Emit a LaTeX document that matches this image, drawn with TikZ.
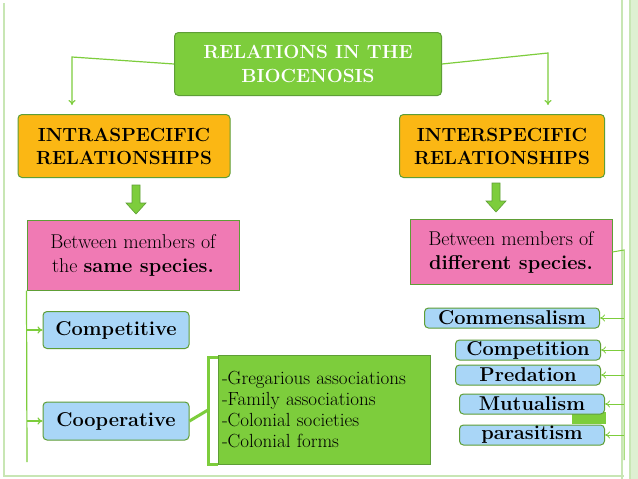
\documentclass[tikz,border=0pt]{standalone}
\usetikzlibrary{arrows.meta}
\definecolor{lg}{HTML}{7DCD3C}
\definecolor{dg}{HTML}{5E9E36}
\definecolor{frame}{HTML}{C8E6B4}
\definecolor{orng}{HTML}{FBB714}
\definecolor{pnk}{HTML}{F07AB4}
\definecolor{blu}{HTML}{A9D6F7}
\tikzset{
 box/.style={draw=dg,line width=1pt,rounded corners=4pt,align=center},
 ln/.style={draw=lg,line width=1.2pt},
 ar/.style={ln,-{To[length=5pt,width=7pt]}},
 blk/.style={fill=lg,draw=dg,line width=0.6pt},
}
\begin{document}
\begin{tikzpicture}[x=1pt,y=-1pt]
\useasboundingbox (0,0) rectangle (638,479);
\fill[white] (0,0) rectangle (638,479);
\fill[frame!60] (630,0) rectangle (638,479);
\draw[frame,line width=2pt] (4,3) -- (4,476) -- (624,476);
\draw[frame,line width=1.5pt] (622,0) -- (622,479);
\draw[frame,line width=1.5pt] (630,0) -- (630,479);
\node[box,fill=lg,text=white,font=\fontsize{19}{24}\selectfont\bfseries,minimum width=267,minimum height=63,inner sep=0pt] (t) at (308,64) {RELATIONS IN THE\\BIOCENOSIS};
\node[box,fill=orng,font=\fontsize{19}{23}\selectfont\bfseries,minimum width=212,minimum height=63,inner sep=0pt] (ia) at (124,146) {INTRASPECIFIC\\RELATIONSHIPS};
\node[box,fill=orng,font=\fontsize{19}{23}\selectfont\bfseries,minimum width=205,minimum height=63,inner sep=0pt] (ie) at (502,146) {INTERSPECIFIC\\RELATIONSHIPS};
\coordinate (lt) at (72,105); \coordinate (rt) at (548,105);
\draw[ar] (t.west) -- (72,57) -- (lt);
\draw[ar] (t.east) -- (548,53) -- (rt);
\node[box,fill=pnk,font=\fontsize{20}{24}\selectfont,rounded corners=0pt,minimum width=212,minimum height=70,inner sep=0pt] (pa) at (133,255) {Between members of\\the \textbf{same species.}};
\node[box,fill=pnk,font=\fontsize{20}{24}\selectfont,rounded corners=0pt,minimum width=202,minimum height=65,inner sep=0pt] (pe) at (511,252) {Between members of\\\textbf{different species.}};
\draw[blk] (132,185) -- (140,185) -- (140,203) -- (146,203) -- (136,214) -- (126,203) -- (132,203) -- cycle;
\draw[blk] (492,183) -- (500,183) -- (500,201) -- (506,201) -- (496,212) -- (486,201) -- (492,201) -- cycle;
\node[box,fill=blu,font=\fontsize{20}{24}\selectfont\bfseries,minimum width=146,minimum height=37,inner sep=0pt] (cp) at (116,330) {Competitive};
\node[box,fill=blu,font=\fontsize{20}{24}\selectfont\bfseries,minimum width=146,minimum height=38,inner sep=0pt] (co) at (116,421) {Cooperative};
\coordinate (lb) at (27,462);
\draw[ln] (pa.south west) -- (lb);
\draw[ar] (27,330) -- (cp.west);
\draw[ar] (27,421) -- (co.west);
\node[fill=lg,draw=dg,line width=1pt,minimum width=212,minimum height=109,text width=204,align=left,font=\fontsize{19}{21}\selectfont,inner sep=4pt] (gb) at (324,410) {-Gregarious associations\\-Family associations\\-Colonial societies\\-Colonial forms};
\coordinate (br) at (208,410);
\draw[lg,line width=3pt] (co.east) -- (br);
\draw[lg,line width=3pt] (218,357) -- (208,357) -- (208,464) -- (218,464);
\fill[lg] (572,412) rectangle (606,424);
\tikzset{sb/.style={box,fill=blu,font=\fontsize{20}{22}\selectfont\bfseries,minimum height=20,inner sep=0pt}}
\node[sb,minimum width=175] (c1) at (512,318) {Commensalism};
\node[sb,minimum width=145] (c2) at (528,350) {Competition};
\node[sb,minimum width=145] (c3) at (528,375) {Predation};
\node[sb,minimum width=145] (c4) at (532,404) {Mutualism};
\node[sb,minimum width=145] (c5) at (532,435) {parasitism};
\coordinate (rv) at (624,250);
\draw[ln,line width=1pt] (pe.east) -- (rv) -- (624,460);
\foreach \n in {c1,c2,c3,c4,c5} \draw[ar,line width=0.8pt] (624,0 |- \n.east) -- (\n.east);
\end{tikzpicture}
\end{document}
